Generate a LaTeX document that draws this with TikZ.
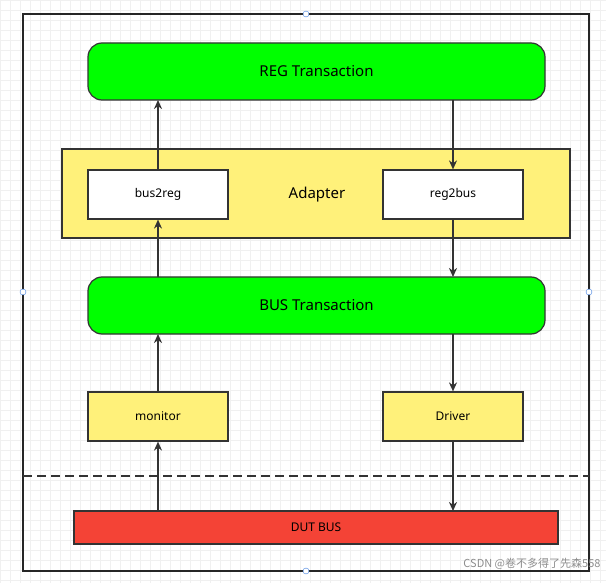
\documentclass[tikz,border=0pt]{standalone}
\usepackage{fontspec}
\setmainfont{Noto Sans}
\newfontfamily\cjk{Noto Sans CJK SC}
\usetikzlibrary{arrows.meta}
\definecolor{grn}{HTML}{00FF00}
\definecolor{yel}{HTML}{FFF17A}
\definecolor{redd}{HTML}{F44336}
\definecolor{arr}{HTML}{333333}
\definecolor{hdl}{HTML}{3C7DE0}
\begin{document}
\begin{tikzpicture}[x=1pt,y=-1pt,
  pill/.style={draw=arr,line width=1.2pt,fill=grn,rounded corners=14pt,font=\bfseries\fontsize{15}{18}\selectfont},
  box/.style={draw=arr,line width=1.2pt,font=\bfseries\fontsize{12}{14}\selectfont},
  ar/.style={draw=arr,line width=1.8pt,-{Stealth[length=9pt,width=8pt]}},
  hd/.style={circle,draw=hdl,fill=white,inner sep=0pt,minimum size=6pt}]
\useasboundingbox (0,0) rectangle (606,583);
\foreach \i in {0,10,...,600} {\draw[black!6] (\i,0) -- (\i,583);}
\foreach \i in {0,10,...,580} {\draw[black!6] (0,\i) -- (606,\i);}
\draw[black!85,line width=1.2pt] (23,14) rectangle (589,571);
\path[pill] (88,43) rectangle (545,100);
\node[font=\bfseries\fontsize{15}{18}\selectfont] (reg) at (316.5,71.5) {REG Transaction};
\coordinate (regl) at (158,100); \coordinate (regr) at (453,100);
\path[box,fill=yel] (62,149) rectangle (570,238);
\node[font=\bfseries\fontsize{15}{18}\selectfont] (ad) at (317,195) {Adapter};
\node[box,fill=white,minimum width=140pt,minimum height=49pt] (b2r) at (158,194.5) {bus2reg};
\node[box,fill=white,minimum width=140pt,minimum height=49pt] (r2b) at (453,194.5) {reg2bus};
\path[pill] (88,277) rectangle (545,334);
\node[font=\bfseries\fontsize{15}{18}\selectfont] (bus) at (316.5,305.5) {BUS Transaction};
\coordinate (busl1) at (158,277); \coordinate (busr1) at (453,277);
\coordinate (busl2) at (158,334); \coordinate (busr2) at (453,334);
\node[box,fill=yel,minimum width=140pt,minimum height=49pt] (mon) at (158,416.5) {monitor};
\node[box,fill=yel,minimum width=140pt,minimum height=49pt] (drv) at (453,416.5) {Driver};
\draw[arr,line width=1.5pt,dash pattern=on 9pt off 5pt] (23,476) -- (589,476);
\path[draw=arr,line width=1.2pt,fill=redd] (74,511) rectangle (558,544);
\node[font=\bfseries\fontsize{12}{14}\selectfont] (dut) at (316,527.5) {DUT BUS};
\coordinate (dutl) at (158,511); \coordinate (dutr) at (453,511);
\draw[ar] (b2r.north) -- (regl);
\draw[ar] (busl1) -- (b2r.south);
\draw[ar] (mon.north) -- (busl2);
\draw[ar] (dutl) -- (mon.south);
\draw[ar] (regr) -- (r2b.north);
\draw[ar] (r2b.south) -- (busr1);
\draw[ar] (busr2) -- (drv.north);
\draw[ar] (drv.south) -- (dutr);
\node[hd] (h1) at (306,14) {}; \node[hd] (h2) at (23,292) {};
\node[hd] (h3) at (589,292) {}; \node[hd] (h4) at (306,571) {};
\node[anchor=east,text=black!45,font=\cjk\fontsize{11}{13}\selectfont] (wm) at (604,564) {CSDN @卷不多得了先森558};
\end{tikzpicture}
\end{document}
